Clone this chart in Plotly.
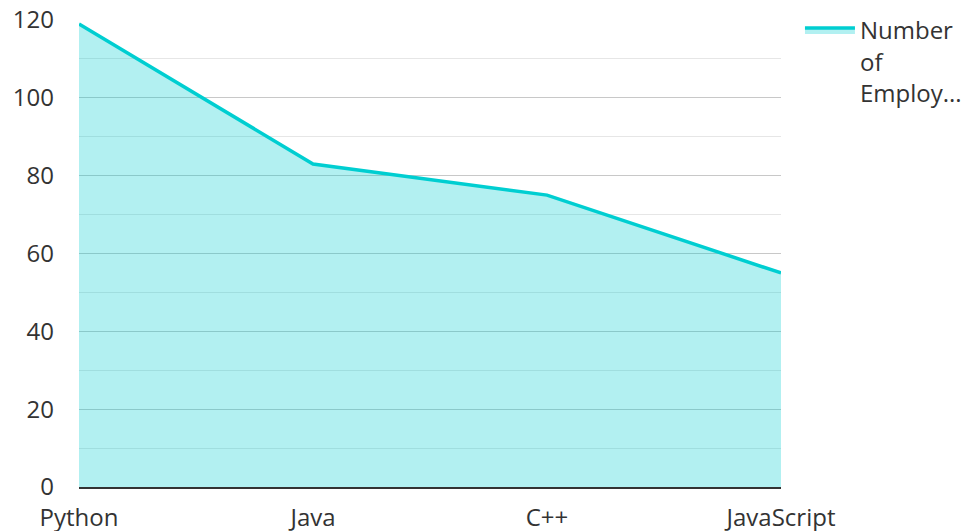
import plotly.graph_objects as go

categories = ["Python", "Java", "C++", "JavaScript"]
employees = [119, 83, 75, 55]
series_name = "Number<br>of<br>Employ..."

fig = go.Figure()
fig.add_trace(go.Scatter(
    x=categories, y=employees, name=series_name, mode="lines",
    line=dict(color="#00CED1", width=3.5),
    fill="tozeroy", fillcolor="rgba(0,206,209,0.3)",
    showlegend=True,
))

fig.update_layout(
    width=963, height=523,
    margin=dict(l=71, r=190, t=12, b=44, autoexpand=False),
    paper_bgcolor="white", plot_bgcolor="white",
    font=dict(family="Open Sans", size=24, color="#333333"),
    xaxis=dict(
        range=[0, 3], showgrid=False, zeroline=False, automargin=False,
        showline=True, linecolor="#333333", linewidth=2,
        ticks="", tickfont=dict(size=24), ticklabelstandoff=8,
        ticklabeloverflow="allow",
    ),
    yaxis=dict(
        range=[0, 120], dtick=20, showgrid=True, gridcolor="#c8c8c8", gridwidth=1,
        zeroline=False, showline=False, ticks="", automargin=False,
        minor=dict(dtick=10, showgrid=True, gridcolor="#e6e6e6"),
        ticklabelstandoff=24, tickfont=dict(size=24),
        ticklabeloverflow="allow",
    ),
    legend=dict(x=1.027, y=1.026, xanchor="left", yanchor="top", valign="top",
                itemwidth=50,
                font=dict(size=24), bgcolor="rgba(0,0,0,0)"),
)

fig.write_html("out.html")
